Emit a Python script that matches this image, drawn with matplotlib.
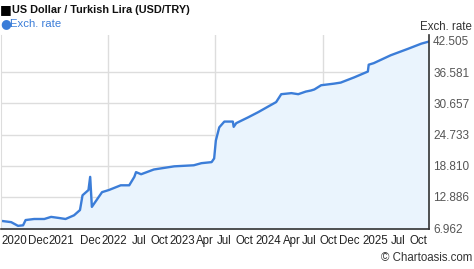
import matplotlib
matplotlib.use("Agg")
from matplotlib import pyplot as plt

plt.rcParams['font.family'] = ['Liberation Sans', 'DejaVu Sans']

# USD/TRY, decimal year vs rate
years = [2020.89, 2021.01, 2021.09, 2021.15, 2021.18, 2021.28, 2021.40, 2021.48,
         2021.57, 2021.65, 2021.75, 2021.82, 2021.85, 2021.92, 2021.94, 2021.96,
         2022.08, 2022.16, 2022.30, 2022.40, 2022.46, 2022.48, 2022.54, 2022.69,
         2022.93, 2023.16, 2023.25, 2023.37, 2023.40, 2023.42, 2023.46, 2023.52,
         2023.62, 2023.63, 2023.66, 2023.80, 2023.92, 2024.03, 2024.13, 2024.19,
         2024.31, 2024.39, 2024.48, 2024.54, 2024.58, 2024.66, 2024.81, 2024.89,
         2025.05, 2025.21, 2025.22, 2025.28, 2025.48, 2025.68, 2025.84, 2025.93]
rate = [8.35, 8.1, 7.4, 7.5, 8.5, 8.7, 8.7, 9.1,
        8.9, 8.7, 9.4, 10.4, 13.2, 14.2, 16.7, 11.0,
        13.8, 14.2, 15.1, 15.1, 16.7, 17.6, 17.2, 18.1,
        18.7, 18.9, 19.3, 19.5, 20.2, 23.6, 26.1, 27.2,
        27.2, 26.2, 26.9, 28.0, 29.0, 30.0, 30.9, 32.4,
        32.6, 32.4, 32.9, 33.1, 33.3, 34.1, 34.4, 34.6,
        35.6, 36.7, 38.0, 38.3, 39.8, 41.0, 42.0, 42.4]

yticks = [6.962, 12.886, 18.810, 24.733, 30.657, 36.581, 42.505]
xtick_pos = [2020.89, 2021.33, 2021.60, 2021.94, 2022.22, 2022.52, 2022.75,
             2023.03, 2023.29, 2023.52, 2023.76, 2024.04, 2024.31, 2024.52,
             2024.75, 2024.99, 2025.30, 2025.57, 2025.80]
xtick_labels = ['2020', 'Dec', '2021', 'Dec', '2022', 'Jul', 'Oct', '2023', 'Apr',
                'Jul', 'Oct', '2024', 'Apr', 'Jul', 'Oct', 'Dec', '2025', 'Jul', 'Oct']
vgrid = [2022.15, 2023.41, 2024.68]

fig = plt.figure(figsize=(4.74, 2.69), dpi=100)
ax = fig.add_axes([1 / 474, 1 - 229 / 269, 428 / 474, 194 / 269])

ymin, ymax = 6.80, 43.64
ax.set_xlim(2020.89, 2025.93)
ax.set_ylim(ymin, ymax)

# grid
for y in yticks[1:-1]:
    ax.axhline(y, color='#dddddd', lw=1, zorder=0)
for x in vgrid:
    ax.axvline(x, color='#dddddd', lw=1, zorder=0)

ax.fill_between(years, rate, ymin, color='#eaf4fd', zorder=1)
ax.plot(years, rate, color='#3b7dd8', lw=1.7, zorder=2)

ax.yaxis.tick_right()
ax.set_yticks(yticks)
ax.set_yticklabels(['%.3f' % v for v in yticks])
ax.tick_params(axis='y', length=0, pad=3, labelsize=8.5, labelcolor='#555555')
ax.set_xticks(xtick_pos)
ax.set_xticklabels(xtick_labels)
ax.tick_params(axis='x', length=0, pad=4, labelsize=8.3, labelcolor='#222222')
ax.get_xticklabels()[0].set_horizontalalignment('left')

ax.spines['top'].set_visible(False)
ax.spines['left'].set_color('#dddddd')
ax.spines['right'].set_color('#333333')
ax.spines['bottom'].set_color('#333333')
ax.spines['right'].set_linewidth(1.2)
ax.spines['bottom'].set_linewidth(1.2)

# header
fig.text(0.0, 1 - 10 / 269, '\u25a0', fontsize=9, color='black', va='center', ha='left',
         family=['DejaVu Sans'])
fig.text(12 / 474, 1 - 10 / 269, 'US Dollar / Turkish Lira (USD/TRY)', fontsize=7.8,
         fontweight='bold', color='#111111', va='center', ha='left')
fig.text(0.0, 1 - 24 / 269, '\u25cf', fontsize=9, color='#3b7dd8', va='center', ha='left',
         family=['DejaVu Sans'])
fig.text(10 / 474, 1 - 24 / 269, 'Exch. rate', fontsize=8.2, color='#3b7dd8',
         va='center', ha='left')
fig.text(472 / 474, 1 - 27 / 269, 'Exch. rate', fontsize=8.3, color='#333333',
         va='center', ha='right')
fig.text(472 / 474, 1 - 258 / 269, '\u00a9 Chartoasis.com', fontsize=8.3, color='#333333',
         va='center', ha='right')

fig.savefig('out.png', dpi=100)
